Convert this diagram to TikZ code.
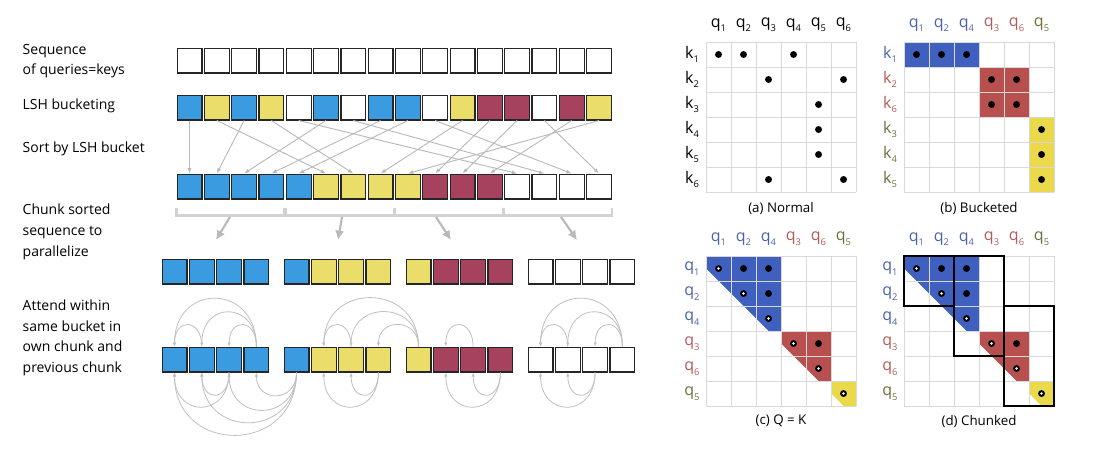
\documentclass[tikz,border=0pt]{standalone}
\usepackage{fontspec}
\setmainfont{Open Sans}
\usetikzlibrary{arrows.meta}

\definecolor{lb}{HTML}{3B9BE0}
\definecolor{ly}{HTML}{EADD6A}
\definecolor{lr}{HTML}{A6425E}
\definecolor{mb}{HTML}{4060C0}
\definecolor{mr}{HTML}{B85050}
\definecolor{my}{HTML}{EAD94A}
\definecolor{tb}{HTML}{4A62AA}
\definecolor{tr}{HTML}{B35A5A}
\definecolor{tg}{HTML}{6E6E3C}

\newcommand\qk[2]{#1\raisebox{-.55ex}{\scriptsize #2}}
\newcommand\fdot[2]{\fill (25*#1-12.5,25*#2-12.5) circle (2.6pt);}
\newcommand\hdot[2]{\fill (25*#1-12.5,25*#2-12.5) circle (2.6pt);
  \fill[white] (25*#1-12.5,25*#2-12.5) circle (1.1pt);}
\newcommand\mgrid{\foreach \g in {0,...,6}{
  \draw[grd] (25*\g,0) -- (25*\g,150);
  \draw[grd] (0,25*\g) -- (150,25*\g);}}

\begin{document}
\begin{tikzpicture}[x=0.75pt,y=-0.75pt,
  sq/.style={draw=black!85,line width=0.9pt,minimum size=18.6pt,inner sep=0pt},
  txt/.style={anchor=west,align=left,font=\fontsize{10.5}{15.5}\selectfont},
  srt/.style={draw=gray!55,line width=0.7pt,-{Latex[length=4pt,width=3pt]}},
  brk/.style={draw=gray!35,line width=1.6pt},
  chk/.style={draw=gray!55,line width=1.6pt,-{Latex[length=7pt,width=7pt]}},
  att/.style={draw=gray!50,line width=0.6pt,-{Latex[length=3pt,width=2.5pt]}},
  grd/.style={draw=gray!30,line width=0.5pt},
  lab/.style={font=\fontsize{12}{12}\selectfont},
  subcap/.style={font=\fontsize{10}{12}\selectfont}]
\useasboundingbox (0,0) rectangle (1116,455);

% left labels
\node[txt] (l1) at (18,61) {Sequence\\of queries=keys};
\node[txt] (l2) at (18,106) {LSH bucketing};
\node[txt] (l3) at (18,149) {Sort by LSH bucket};
\node[txt] (l4) at (18,232) {Chunk sorted\\sequence to\\parallelize};
\node[txt] (l5) at (18,338) {Attend within\\same bucket in\\own chunk and\\previous chunk};

% rows
\foreach \i in {0,...,15}
  \node[sq] (a\i) at (189.5+27.3*\i,60.5) {};
\foreach \c [count=\i from 0] in {lb,ly,lb,ly,white,lb,white,lb,lb,white,ly,lr,lr,white,lr,ly}
  \node[sq,fill=\c] (b\i) at (189.5+27.3*\i,107.5) {};
\foreach \c [count=\i from 0] in {lb,lb,lb,lb,lb,ly,ly,ly,ly,lr,lr,lr,white,white,white,white}
  \node[sq,fill=\c] (s\i) at (189.5+27.3*\i,186.5) {};
\foreach \c [count=\i from 0] in {lb,lb,lb,lb,lb,ly,ly,ly,ly,lr,lr,lr,white,white,white,white}{
  \pgfmathsetmacro\xx{174.5+122*int(\i/4)+27.3*mod(\i,4)}
  \node[sq,fill=\c] (c\i) at (\xx,271.5) {};
  \node[sq,fill=\c] (d\i) at (\xx,359.5) {};
}

% sorting
\foreach \i/\j in {0/0,1/5,2/1,3/6,4/12,5/2,6/13,7/3,8/4,9/14,10/7,11/9,12/10,13/15,14/11,15/8}
  \draw[srt] (b\i.south) -- (s\j.north);

% chunks
\foreach \k in {0,...,3}{
  \pgfmathtruncatemacro\a{4*\k}
  \pgfmathtruncatemacro\b{4*\k+3}
  \draw[brk] ([yshift=-6pt]s\a.south west) |- ([yshift=-12pt]s\b.south east)
    -- ([yshift=-6pt]s\b.south east);
}
\coordinate (k0) at (230,217); \coordinate (t0) at (216,240);
\coordinate (k1) at (342,217); \coordinate (t1) at (338,240);
\coordinate (k2) at (436,217); \coordinate (t2) at (451,240);
\coordinate (k3) at (561,217); \coordinate (t3) at (577,240);
\foreach \k in {0,...,3}
  \draw[chk] (k\k) -- (t\k);

% attention, same chunk
\foreach \s/\t/\l in {3/0/2.0,3/1/2.15,3/2/2.7,1/0/2.7,8/5/1.75,8/6/1.75,8/7/1.85,6/5/2.7,
  10/9/2.7,15/12/2.0,15/13/2.15,15/14/2.7,13/12/2.7}
  \draw[att] (d\s.north) to[out=90,in=90,looseness=\l] (d\t.north);
% attention, previous chunk
\foreach \s/\t/\l in {2/0/2.15,2/1/2.8,4/0/1.75,4/1/1.8,4/2/1.9,4/3/1.95,
  7/5/2.15,7/6/2.8,11/9/2.15,11/10/2.8,14/12/2.15,14/13/2.8}
  \draw[att] (d\s.south) to[out=-90,in=-90,looseness=\l] (d\t.south);

% (a) Normal
\begin{scope}[shift={(706,42)}]
\mgrid
\foreach \n [count=\i] in {1,...,6}{
  \node[lab] (qa\i) at (25*\i-12.5,-17) {\qk{q}{\n}};
  \node[lab] (ka\i) at (-14,25*\i-12.5) {\qk{k}{\n}};
}
\foreach \c/\r in {1/1,2/1,4/1,3/2,6/2,5/3,5/4,5/5,3/6,6/6} {\fdot{\c}{\r}}
\node[subcap] (capa) at (75,166) {(a) Normal};
\end{scope}

% (b) Bucketed
\begin{scope}[shift={(904,42)}]
\fill[mb] (0,0) rectangle (75,25);
\fill[mr] (75,25) rectangle (125,75);
\fill[my] (125,75) rectangle (150,150);
\mgrid
\foreach \n/\c [count=\i] in {1/tb,2/tb,4/tb,3/tr,6/tr,5/tg}
  \node[lab,text=\c] (qb\i) at (25*\i-12.5,-17) {\qk{q}{\n}};
\foreach \n/\c [count=\i] in {1/tb,2/tr,6/tr,3/tg,4/tg,5/tg}
  \node[lab,text=\c] (kb\i) at (-14,25*\i-12.5) {\qk{k}{\n}};
\foreach \c/\r in {1/1,2/1,3/1,4/2,5/2,4/3,5/3,6/4,6/5,6/6} {\fdot{\c}{\r}}
\node[subcap] (capb) at (75,166) {(b) Bucketed};
\end{scope}

% (c) Q = K and (d) Chunked
\foreach \x/\y/\nm/\txt in {706/256/c/(c) Q = K,904/256/d/(d) Chunked}{
\begin{scope}[shift={(\x,\y)}]
\fill[mb] (0,0) -- (75,0) -- (75,75) -- (62.5,75) -- (0,12.5) -- cycle;
\fill[mr] (75,75) -- (125,75) -- (125,125) -- (112.5,125) -- (75,87.5) -- cycle;
\fill[my] (125,125) -- (150,125) -- (150,150) -- (137.5,150) -- (125,137.5) -- cycle;
\mgrid
\foreach \n/\c [count=\i] in {1/tb,2/tb,4/tb,3/tr,6/tr,5/tg}{
  \node[lab,text=\c] (q\nm\i) at (25*\i-12.5,-17) {\qk{q}{\n}};
  \node[lab,text=\c] (r\nm\i) at (-14,25*\i-12.5) {\qk{q}{\n}};
}
\foreach \c/\r in {2/1,3/1,3/2,5/4} {\fdot{\c}{\r}}
\foreach \i in {1,...,6} {\hdot{\i}{\i}}
\node[subcap] (cap\nm) at (75,165) {\txt};
\end{scope}
}
\begin{scope}[shift={(904,256)},line width=1.5pt]
\draw (0,0) rectangle (50,50);
\draw (50,0) rectangle (100,100);
\draw (100,50) rectangle (150,150);
\end{scope}
\end{tikzpicture}
\end{document}
